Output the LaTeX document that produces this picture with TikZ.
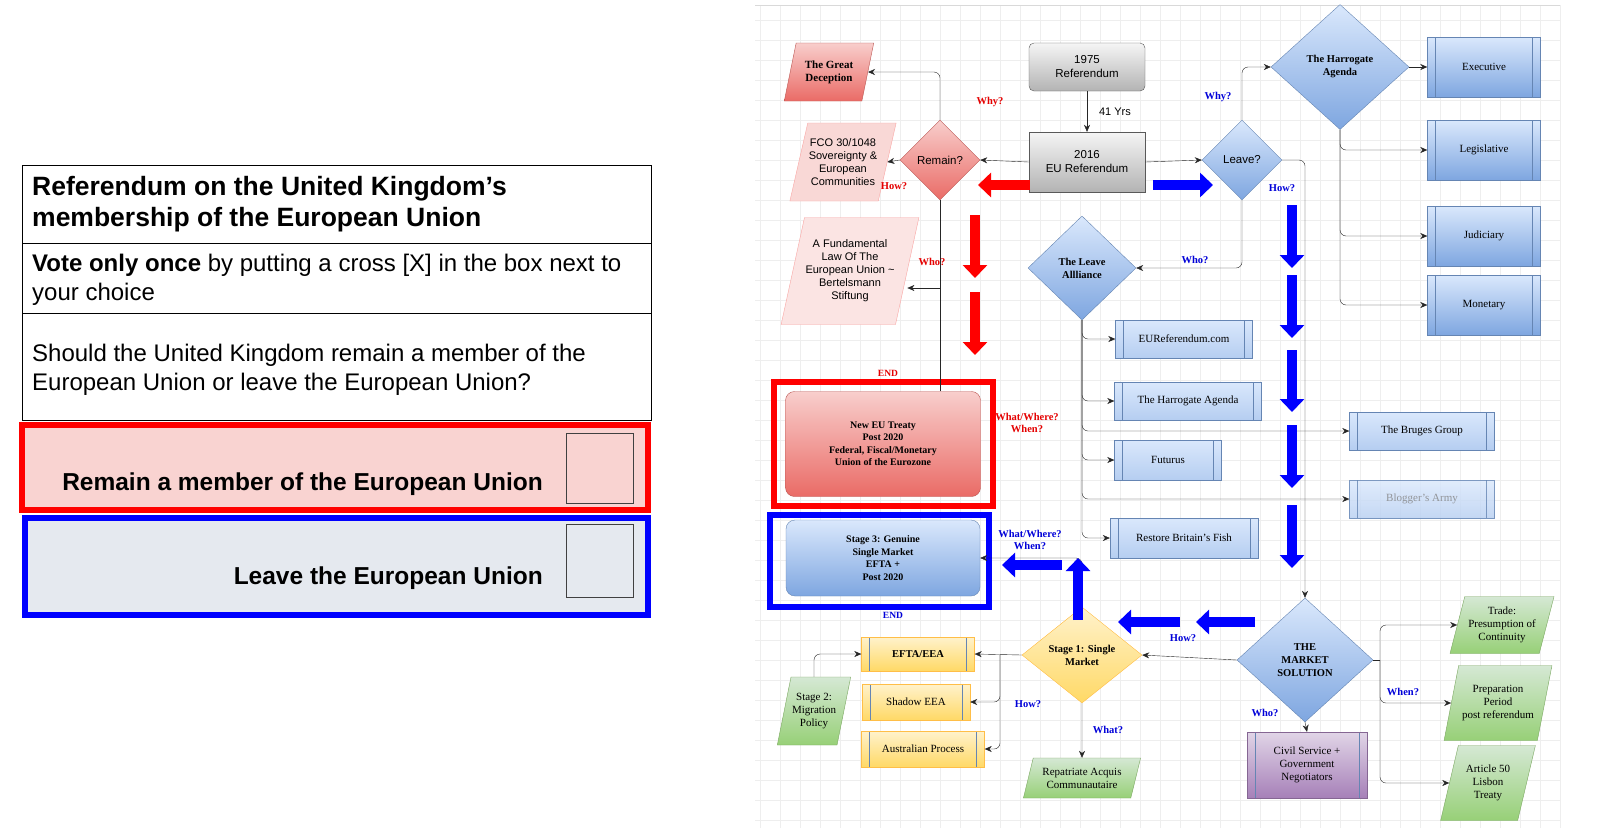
\documentclass[tikz,border=0pt]{standalone}
\usepackage{fontspec}
\setmainfont{Liberation Serif}
\newfontfamily\sans{Liberation Sans}
\usetikzlibrary{shapes.geometric,arrows.meta}
\definecolor{rtop}{HTML}{F8CECC}\definecolor{rbot}{HTML}{EA6B66}
\definecolor{btop}{HTML}{DAE8FC}\definecolor{bbot}{HTML}{7EA6E0}
\definecolor{ytop}{HTML}{FFF2CC}\definecolor{ybot}{HTML}{FFD966}
\definecolor{gtop}{HTML}{D5E8D4}\definecolor{gbot}{HTML}{97D077}
\definecolor{ptop}{HTML}{E1D5E7}\definecolor{pbot}{HTML}{A680B8}
\definecolor{qtop}{HTML}{F5F5F5}\definecolor{qbot}{HTML}{B3B3B3}
\definecolor{bred}{HTML}{FF0000}\definecolor{bblue}{HTML}{0000FF}
\tikzset{
 x=1pt,y=-1pt,
 base/.style={align=center,inner sep=1pt,font=\fontsize{11}{13}\selectfont},
 redg/.style={top color=rtop,bottom color=rbot,draw=rbot!80!black},
 blueg/.style={top color=btop,bottom color=bbot,draw=bbot!80!black},
 yelg/.style={top color=ytop,bottom color=ybot,draw=ybot!70!orange},
 greg/.style={top color=gtop,bottom color=gbot,draw=gbot!80!black},
 purg/.style={top color=ptop,bottom color=pbot,draw=pbot!80!black},
 grag/.style={top color=qtop,bottom color=qbot,draw=gray!70!black},
 dia/.style={base,diamond,aspect=#1,inner sep=0pt},
 para/.style={base,trapezium,trapezium left angle=70,trapezium right angle=110,trapezium stretches=true},
 proc/.style={base,rectangle,path picture={
   \draw[bbot!80!black] ([xshift=8pt]path picture bounding box.north west) -- ([xshift=8pt]path picture bounding box.south west);
   \draw[bbot!80!black] ([xshift=-8pt]path picture bounding box.north east) -- ([xshift=-8pt]path picture bounding box.south east);}},
 con/.style={draw=black!85,-{Stealth[length=7pt,width=6pt]},rounded corners=6pt},
 fat/.style={line width=10pt,-{Triangle[length=13pt,width=24pt]}},
 rl/.style={text=red!90!black,font=\bfseries\fontsize{10.5}{12}\selectfont,align=center,inner sep=0pt},
 bl/.style={text=bblue!85!black,font=\bfseries\fontsize{10.5}{12}\selectfont,align=center,inner sep=0pt},
 big/.style={anchor=north west,align=left,inner sep=0pt,font=\sans\fontsize{24}{29}\selectfont},
}
\begin{document}
\begin{tikzpicture}
\useasboundingbox (0,0) rectangle (1600,828);
\fill[white] (0,0) rectangle (1600,828);
% ---------- ballot ----------
\draw[black,line width=1pt] (22,165) rectangle (651,420);
\draw[black] (22,243) -- (651,243) (22,313) -- (651,313);
\node[big,font=\sans\bfseries\fontsize{26.5}{31}\selectfont] (h) at (32,176) {Referendum on the United Kingdom’s\\membership of the European Union};
\node[big] (v) at (32,254) {\textbf{Vote only once} by putting a cross [X] in the box next to\\your choice};
\node[big] (q) at (32,344) {Should the United Kingdom remain a member of the\\European Union or leave the European Union?};
\draw[bred,line width=6pt,fill=rtop!90!white] (22,425) rectangle (648,510);
\draw[black!75,fill=rtop!90!white] (566,433) rectangle (633,503);
\node[anchor=east,inner sep=0pt,font=\sans\bfseries\fontsize{24.5}{29}\selectfont] (rm) at (543,484) {Remain a member of the European Union};
\draw[bblue,line width=6pt,fill=btop!70!gray!40!white] (25,518) rectangle (648,615);
\draw[black!75] (566,524) rectangle (633,597);
\node[anchor=east,inner sep=0pt,font=\sans\bfseries\fontsize{24.5}{29}\selectfont] (lv) at (543,578) {Leave the European Union};
% ---------- grid ----------
\foreach \gx in {760,780,...,1560} \draw[gray!13] (\gx,5) -- (\gx,828);
\foreach \gy in {20,40,...,820} \draw[gray!13] (755,\gy) -- (1560,\gy);
\draw[gray!30] (755,5) -- (1560,5);
% ---------- nodes ----------
\node[para,redg,minimum width=90,minimum height=58,font=\bfseries\fontsize{11}{13}\selectfont] (gd) at (829,72) {The Great\\Deception};
\node[base,grag,rounded corners=5pt,minimum width=116,minimum height=48,font=\sans\fontsize{11.5}{14}\selectfont] (r75) at (1087,67) {1975\\Referendum};
\node[base,grag,minimum width=116,minimum height=60,font=\sans\fontsize{11.5}{14}\selectfont] (r16) at (1087,162) {2016\\EU Referendum};
\node[base,font=\sans\fontsize{11}{13}\selectfont] (yrs) at (1115,112) {41 Yrs};
\node[dia=1,redg,minimum width=80,minimum height=80,font=\sans\fontsize{11.5}{14}\selectfont] (rem) at (940,160) {Remain?};
\node[para,fill=rtop!80!white,draw=rtop!80!red,minimum width=105,minimum height=78,font=\sans\fontsize{11}{13}\selectfont] (fco) at (843,162) {FCO 30/1048\\Sovereignty \&\\European\\Communities};
\node[para,fill=rtop!55!white,draw=rtop!80!red,minimum width=115,minimum height=107,font=\sans\fontsize{11}{13}\selectfont] (fl) at (850,271) {A Fundamental\\Law Of The\\European Union \textasciitilde\\Bertelsmann\\Stiftung};
\node[rl] (why1) at (990,102) {Why?};
\node[rl] (how1) at (894,186) {How?};
\node[rl] (who1) at (932,262) {Who?};
\node[rl,font=\bfseries\fontsize{9.5}{11}\selectfont] (end1) at (888,373) {END};
\draw[bred,line width=6pt] (774,382) rectangle (993,506);
\node[base,redg,rounded corners=9pt,minimum width=195,minimum height=105,font=\bfseries\fontsize{10}{12.5}\selectfont] (eut) at (883,444) {New EU Treaty\\Post 2020\\Federal, Fiscal/Monetary\\Union of the Eurozone};
\node[rl] (ww1) at (1027,423) {What/Where?\\When?};
\node[dia=1,blueg,minimum width=80,minimum height=80,font=\sans\fontsize{11.5}{14}\selectfont] (lea) at (1242,160) {Leave?};
\node[bl] (why2) at (1218,97) {Why?};
\node[bl] (how2) at (1282,188) {How?};
\node[bl] (who2) at (1195,260) {Who?};
\node[dia=1.1,blueg,minimum width=138,minimum height=125,font=\bfseries\fontsize{10.5}{13}\selectfont] (ha) at (1340,67) {The Harrogate\\Agenda};
\foreach \n/\t/\yy in {ex/Executive/67,lg/Legislative/150,jd/Judiciary/236,mn/Monetary/305}
  \node[proc,blueg,minimum width=113,minimum height=60] (\n) at (1484,\yy) {\t};
\node[dia=1.05,blueg,minimum width=108,minimum height=104,font=\bfseries\fontsize{10.5}{13}\selectfont] (la) at (1082,268) {The Leave\\Allliance};
\node[proc,blueg,top color=btop,bottom color=btop!60!bbot,minimum width=137,minimum height=38] (eur) at (1184,339) {EUReferendum.com};
\node[proc,blueg,top color=btop,bottom color=btop!60!bbot,minimum width=147,minimum height=38] (hab) at (1188,401) {The Harrogate Agenda};
\node[proc,blueg,top color=btop,bottom color=btop!60!bbot,minimum width=145,minimum height=38] (bru) at (1422,431) {The Bruges Group};
\node[proc,blueg,top color=btop,bottom color=btop!60!bbot,minimum width=107,minimum height=40] (fut) at (1168,460) {Futurus};
\node[proc,blueg,top color=btop,bottom color=btop!60!bbot,opacity=0.8,text=gray,minimum width=145,minimum height=38] (blg) at (1422,499) {Blogger's Army};
\node[proc,blueg,top color=btop,bottom color=btop!60!bbot,minimum width=148,minimum height=40] (rbf) at (1184,538) {Restore Britain's Fish};
\node[dia=1.1,blueg,minimum width=136,minimum height=124,font=\bfseries\fontsize{10.5}{13}\selectfont] (ms) at (1305,660) {THE\\MARKET\\SOLUTION};
\node[dia=1.25,yelg,minimum width=120,minimum height=96,font=\bfseries\fontsize{10.5}{13}\selectfont] (s1) at (1082,655) {Stage 1: Single\\Market};
\draw[bblue,line width=6pt] (770,515) rectangle (989,607);
\node[base,blueg,rounded corners=9pt,minimum width=194,minimum height=76,font=\bfseries\fontsize{10}{12.5}\selectfont] (s3) at (883,558) {Stage 3: Genuine\\Single Market\\EFTA +\\Post 2020};
\node[bl] (ww2) at (1030,540) {What/Where?\\When?};
\node[bl,font=\bfseries\fontsize{9.5}{11}\selectfont] (end2) at (893,615) {END};
\node[proc,yelg,minimum width=113,minimum height=34,font=\bfseries\fontsize{10.5}{13}\selectfont] (efta) at (918,654) {EFTA/EEA};
\node[proc,yelg,minimum width=108,minimum height=36] (sh) at (916,702) {Shadow EEA};
\node[proc,yelg,minimum width=123,minimum height=36] (au) at (923,749) {Australian Process};
\node[para,greg,minimum width=60,minimum height=68] (s2) at (814,711) {Stage 2:\\Migration\\Policy};
\node[para,greg,minimum width=118,minimum height=40] (rep) at (1082,778) {Repatriate Acquis\\Communautaire};
\node[bl] (how3) at (1028,704) {How?};
\node[bl] (what) at (1108,730) {What?};
\node[bl] (how4) at (1183,638) {How?};
\node[bl] (who3) at (1265,713) {Who?};
\node[bl] (when) at (1403,692) {When?};
\node[proc,purg,minimum width=120,minimum height=66] (cs) at (1307,765) {Civil Service +\\Government\\Negotiators};
\node[para,greg,minimum width=105,minimum height=57] (tr) at (1502,625) {Trade:\\Presumption of\\Continuity};
\node[para,greg,minimum width=108,minimum height=75] (pp) at (1498,703) {Preparation\\Period\\post referendum};
\node[para,greg,minimum width=95,minimum height=75] (a50) at (1488,783) {Article 50\\Lisbon\\Treaty};
% ---------- connectors ----------
\draw[con] (r75) -- (r16);
\draw[con] (r16.west) -- (rem.east);
\draw[con] (rem.west) -- (fco.east);
\draw[con] (rem.north) |- (gd.east);
\coordinate (w1) at (940,288);
\draw[draw=black!85] (rem.south) -- (eut.north -| rem.south);
\draw[con] (w1) -- (fl.east |- w1);
\draw[con] (r16.east) -- (lea.west);
\draw[con] (lea.north) |- (ha.west);
\draw[con] (lea.south) |- (la.east);
\draw[con] (lea.east) -| (ms.north);
\draw[con] (ha.east) -- (ex.west);
\draw[con] (ha.south) |- (lg.west);
\draw[con] (ha.south) |- (jd.west);
\draw[con] (ha.south) |- (mn.west);
\draw[con] (la.south) |- (eur.west);
\draw[con] (la.south) |- (hab.west);
\draw[con] (la.south) |- (bru.west);
\draw[con] (la.south) |- (fut.west);
\draw[con] (la.south) |- (blg.west);
\draw[con] (la.south) |- (rbf.west);
\draw[con] (ms.west) -- (s1.east);
\draw[con] (s1.north) |- (s3.east);
\draw[con] (s1.west) -- (efta.east);
\coordinate (br) at (1000,655);
\draw[con] (br) |- (sh.east);
\draw[con] (br) |- (au.east);
\draw[con] (s2.north) |- (efta.west);
\draw[con] (s1.south) -- (rep.north);
\draw[con] (ms.south) -- (cs.north);
\coordinate (br2) at (1380,660);
\draw[draw=black!85] (ms.east) -- (br2);
\draw[con] (br2) |- (tr.west);
\draw[con] (br2) |- (pp.west);
\draw[con] (br2) |- (a50.west);
% ---------- fat arrows ----------
\draw[fat,bred] (1030,185) -- (978,185);
\draw[fat,bred] (975,215) -- (975,278);
\draw[fat,bred] (975,292) -- (975,355);
\draw[fat,bblue] (1153,185) -- (1213,185);
\foreach \a/\b in {205/268,275/338,350/412,425/488,505/568}
  \draw[fat,bblue] (1292,\a) -- (1292,\b);
\draw[fat,bblue] (1255,622) -- (1196,622);
\draw[fat,bblue] (1180,622) -- (1118,622);
\draw[fat,bblue] (1078,620) -- (1078,558);
\draw[fat,bblue] (1062,565) -- (1002,565);
\end{tikzpicture}
\end{document}
